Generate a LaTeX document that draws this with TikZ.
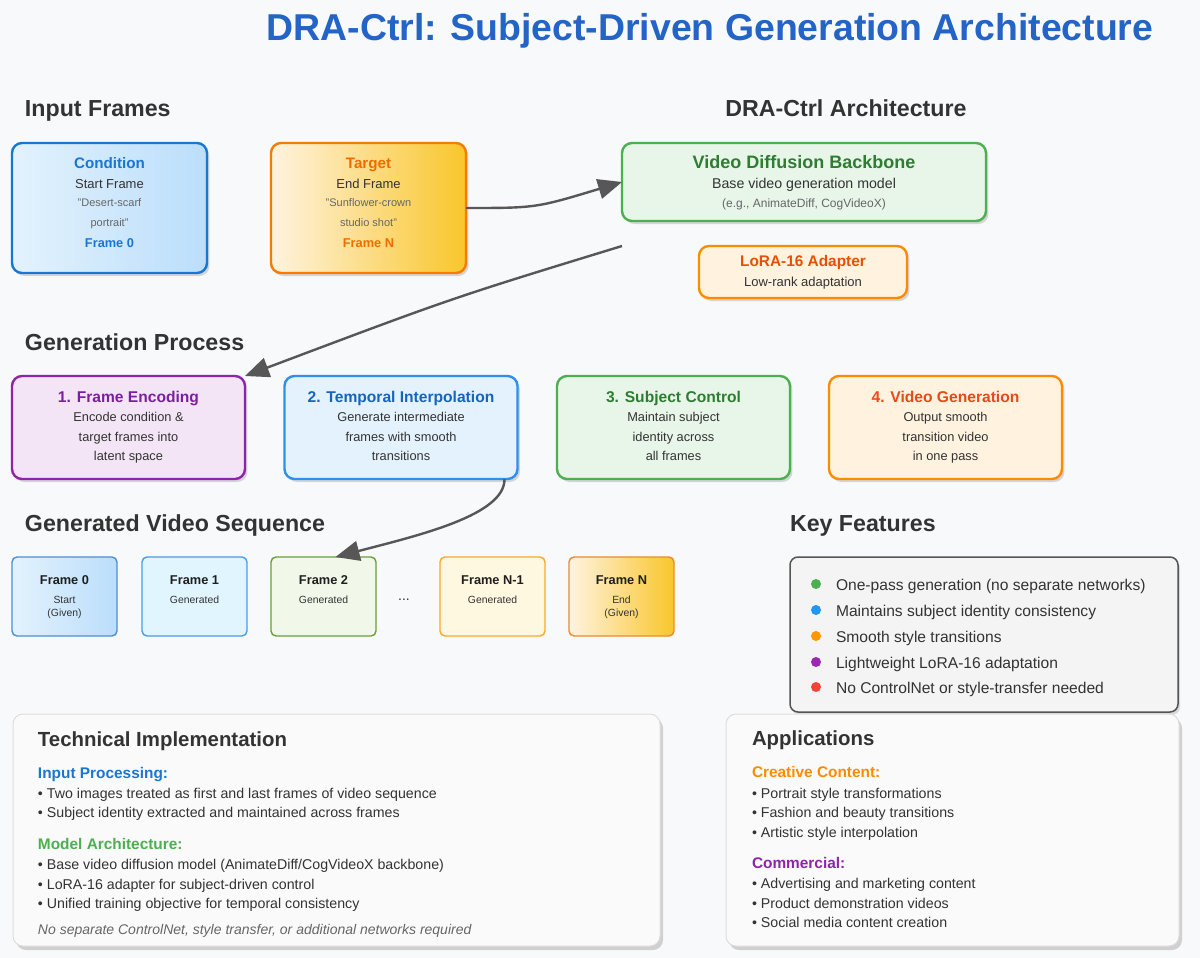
\documentclass[tikz,border=0pt]{standalone}
\usepackage{fontspec}
\setmainfont{Liberation Sans}
\usetikzlibrary{arrows.meta, shadows, positioning}

\definecolor{bgc}{HTML}{F8F9FA}
\definecolor{txt}{HTML}{333333}
\definecolor{txtD}{HTML}{1F1F1F}
\definecolor{gry}{HTML}{666666}
\definecolor{ttlc}{HTML}{2364C6}
\definecolor{arrc}{HTML}{575757}
\definecolor{bluD}{HTML}{1976D2}
\definecolor{bluL}{HTML}{E3F2FD}
\definecolor{bluM}{HTML}{BBDEFB}
\definecolor{bluB}{HTML}{2F8FEA}
\definecolor{bluT}{HTML}{1565C0}
\definecolor{orgB}{HTML}{F57C00}
\definecolor{orgT}{HTML}{EF6C00}
\definecolor{orgL}{HTML}{FFF3E0}
\definecolor{ylwM}{HTML}{F9C62B}
\definecolor{lorB}{HTML}{FB8C00}
\definecolor{lorT}{HTML}{E65100}
\definecolor{redT}{HTML}{E64A19}
\definecolor{grnB}{HTML}{4CAF50}
\definecolor{grnT}{HTML}{2E7D32}
\definecolor{grnL}{HTML}{E8F5E9}
\definecolor{purB}{HTML}{8E24AA}
\definecolor{purT}{HTML}{7B1FA2}
\definecolor{purL}{HTML}{F3E5F5}
\definecolor{frB0}{HTML}{4A8FD9}
\definecolor{frB1}{HTML}{4A9BE8}
\definecolor{frL1}{HTML}{E1F5FE}
\definecolor{frB2}{HTML}{689F38}
\definecolor{frL2}{HTML}{F1F8E9}
\definecolor{frB3}{HTML}{FFA726}
\definecolor{frL3}{HTML}{FFF8E1}
\definecolor{frB4}{HTML}{EE8A2A}
\definecolor{keyB}{HTML}{555555}
\definecolor{keyL}{HTML}{F4F4F4}
\definecolor{panB}{HTML}{DDDDDD}
\definecolor{panL}{HTML}{FAFAFA}
\definecolor{dotG}{HTML}{4CAF50}
\definecolor{dotB}{HTML}{2196F3}
\definecolor{dotO}{HTML}{FF9800}
\definecolor{dotP}{HTML}{9C27B0}
\definecolor{dotR}{HTML}{F44336}

\tikzset{
  fs/.style={font=\fontsize{#1}{#1}\selectfont, execute at begin node=\strut, yshift=-0.15*#1pt},
  fb/.style={font=\fontsize{#1}{#1}\selectfont\bfseries, execute at begin node=\strut, yshift=-0.15*#1pt},
  fi/.style={font=\fontsize{#1}{#1}\selectfont\itshape, execute at begin node=\strut, yshift=-0.15*#1pt},
  sz/.style 2 args={minimum width=#1*0.5pt, minimum height=#2*0.5pt},
  bigbox/.style={draw, rounded corners=5pt, line width=1.2pt,
    drop shadow={shadow xshift=1.2pt, shadow yshift=-1.5pt, opacity=0.14, fill=black}},
  frbox/.style={draw, rounded corners=2.5pt, line width=0.7pt, sz={105}{79}},
  panel/.style={draw=panB, fill=panL, rounded corners=5pt, line width=0.5pt,
    drop shadow={shadow xshift=1.5pt, shadow yshift=-2pt, opacity=0.16, fill=black}},
  dot/.style={circle, minimum size=5pt},
  hdr/.style={fb=11.6, text=txt, anchor=west},
  bul/.style={fs=7.1, text=txt, anchor=west},
  arr/.style={draw=arrc, line width=1.2pt, -{Triangle[length=12pt,width=10pt]}},
}

\begin{document}
\begin{tikzpicture}[x=0.5pt, y=-0.5pt, every node/.style={inner sep=0pt, outer sep=0pt}]

  % canvas
  \fill[bgc] (0,0) rectangle (1200,958);
  \useasboundingbox (0,0) rectangle (1200,958);

  % row positions (pixels of the layout)
  \def\yIn{208}
  \def\yStep{427.5}
  \def\yFr{596.5}

  % --- Title ---
  \node (title) [fb=18.7, text=ttlc] at (710,27) {DRA-Ctrl: Subject-Driven Generation Architecture};

  % --- Section headings ---
  \node (hIn)  [hdr] at (25,108) {Input Frames};
  \node (hArc) [fb=11.6, text=txt] at (846,108) {DRA-Ctrl Architecture};
  \node (hGen) [hdr] at (25,342) {Generation Process};
  \node (hSeq) [hdr] at (25,523) {Generated Video Sequence};
  \node (hKey) [hdr] at (790,523) {Key Features};

  % --- Input frames ---
  \node (cond) [bigbox, draw=bluD, left color=bluL, right color=bluM, sz={195}{130}] at (109.5,\yIn) {};
  \node (cond1) [fb=7.6, text=bluD] at (109.5,163) {Condition};
  \node (cond2) [fs=6.5, text=txt] at (109.5,184) {Start Frame};
  \node (cond3) [fs=5.5, text=gry] at (109.5,203) {"Desert-scarf};
  \node (cond4) [fs=5.5, text=gry] at (109.5,223) {portrait"};
  \node (cond5) [fb=6.4, text=bluD] at (109.5,243) {Frame 0};

  \node (tgt) [bigbox, draw=orgB, left color=orgL, right color=ylwM, sz={195}{130}] at (368.5,\yIn) {};
  \node (tgt1) [fb=7.6, text=orgT] at (368.5,163) {Target};
  \node (tgt2) [fs=6.5, text=txt] at (368.5,184) {End Frame};
  \node (tgt3) [fs=5.5, text=gry] at (368.5,203) {"Sunflower-crown};
  \node (tgt4) [fs=5.5, text=gry] at (368.5,223) {studio shot"};
  \node (tgt5) [fb=6.4, text=orgT] at (368.5,243) {Frame N};

  % --- Architecture ---
  \node (bb) [bigbox, draw=grnB, fill=grnL, sz={364}{78}] at (804,182) {};
  \node (bb1) [fb=9, text=grnT] at (804,162) {Video Diffusion Backbone};
  \node (bb2) [fs=7.1, text=txt] at (804,183) {Base video generation model};
  \node (bb3) [fs=6, text=gry] at (804,203) {(e.g., AnimateDiff, CogVideoX)};

  \node (lora) [bigbox, draw=lorB, fill=orgL, sz={208}{52}] at (803,272) {};
  \node (lora1) [fb=7.7, text=lorT] at (803,261) {LoRA-16 Adapter};
  \node (lora2) [fs=6.5, text=txt] at (803,282) {Low-rank adaptation};

  % --- Generation steps ---
  \node (s1) [bigbox, draw=purB, fill=purL, sz={233}{103}] at (128.5,\yStep) {};
  \node (s1a) [fb=7.8, text=purT] at (128.5,397) {1. Frame Encoding};
  \node (s1b) [fs=6.4, text=txt] at (128.5,417) {Encode condition \&};
  \node (s1c) [fs=6.4, text=txt] at (128.5,437) {target frames into};
  \node (s1d) [fs=6.4, text=txt] at (128.5,456) {latent space};

  \node (s2) [bigbox, draw=bluB, fill=bluL, sz={233}{103}] at (401,\yStep) {};
  \node (s2a) [fb=7.8, text=bluT] at (401,397) {2. Temporal Interpolation};
  \node (s2b) [fs=6.4, text=txt] at (401,417) {Generate intermediate};
  \node (s2c) [fs=6.4, text=txt] at (401,437) {frames with smooth};
  \node (s2d) [fs=6.4, text=txt] at (401,456) {transitions};

  \node (s3) [bigbox, draw=grnB, fill=grnL, sz={233}{103}] at (673.5,\yStep) {};
  \node (s3a) [fb=7.8, text=grnT] at (673.5,397) {3. Subject Control};
  \node (s3b) [fs=6.4, text=txt] at (673.5,417) {Maintain subject};
  \node (s3c) [fs=6.4, text=txt] at (673.5,437) {identity across};
  \node (s3d) [fs=6.4, text=txt] at (673.5,456) {all frames};

  \node (s4) [bigbox, draw=lorB, fill=orgL, sz={233}{103}] at (945.5,\yStep) {};
  \node (s4a) [fb=7.8, text=redT] at (945.5,397) {4. Video Generation};
  \node (s4b) [fs=6.4, text=txt] at (945.5,417) {Output smooth};
  \node (s4c) [fs=6.4, text=txt] at (945.5,437) {transition video};
  \node (s4d) [fs=6.4, text=txt] at (945.5,456) {in one pass};

  % --- Video sequence ---
  \node (f0) [frbox, draw=frB0, left color=bluL, right color=bluM] at (64.5,\yFr) {};
  \node (f0a) [fb=6.4, text=txtD] at (64.5,580) {Frame 0};
  \node (f0b) [fs=5.2, text=txt] at (64.5,600) {Start};
  \node (f0c) [fs=5.2, text=txt] at (64.5,613) {(Given)};

  \node (f1) [frbox, draw=frB1, fill=frL1] at (194.5,\yFr) {};
  \node (f1a) [fb=6.4, text=txtD] at (194.5,580) {Frame 1};
  \node (f1b) [fs=5.2, text=txt] at (194.5,600) {Generated};

  \node (f2) [frbox, draw=frB2, fill=frL2] at (323.5,\yFr) {};
  \node (f2a) [fb=6.4, text=txtD] at (323.5,580) {Frame 2};
  \node (f2b) [fs=5.2, text=txt] at (323.5,600) {Generated};

  \node (gap) [fs=7, text=txt] at (404,596) {...};

  \node (fn1) [frbox, draw=frB3, fill=frL3] at (492.5,\yFr) {};
  \node (fn1a) [fb=6.4, text=txtD] at (492.5,580) {Frame N-1};
  \node (fn1b) [fs=5.2, text=txt] at (492.5,600) {Generated};

  \node (fn) [frbox, draw=frB4, left color=orgL, right color=ylwM] at (621.5,\yFr) {};
  \node (fna) [fb=6.4, text=txtD] at (621.5,580) {Frame N};
  \node (fnb) [fs=5.2, text=txt] at (621.5,600) {End};
  \node (fnc) [fs=5.2, text=txt] at (621.5,613) {(Given)};

  % --- Key features ---
  \node (kf) [draw=keyB, fill=keyL, rounded corners=4pt, line width=0.75pt, sz={388}{155},
    drop shadow={shadow xshift=1pt, shadow yshift=-1.5pt, opacity=0.12, fill=black}] at (984,634.5) {};
  \node (d1) [dot, fill=dotG] at (816,584) {};
  \node (d2) [dot, fill=dotB] at (816,610) {};
  \node (d3) [dot, fill=dotO] at (816,636) {};
  \node (d4) [dot, fill=dotP] at (816,662) {};
  \node (d5) [dot, fill=dotR] at (816,687) {};
  \node (k1) [fs=7.8, text=txt, anchor=west] at (836,585) {One-pass generation (no separate networks)};
  \node (k2) [fs=7.8, text=txt, anchor=west] at (836,611) {Maintains subject identity consistency};
  \node (k3) [fs=7.8, text=txt, anchor=west] at (836,637) {Smooth style transitions};
  \node (k4) [fs=7.8, text=txt, anchor=west] at (836,663) {Lightweight LoRA-16 adaptation};
  \node (k5) [fs=7.8, text=txt, anchor=west] at (836,688) {No ControlNet or style-transfer needed};

  % --- Technical implementation ---
  \node (tech) [panel, sz={647}{232}] at (336.5,830) {};
  \node (tech0) [fb=10.2, text=txt, anchor=west] at (38,739) {Technical Implementation};
  \node (tech1) [fb=7.7, text=bluD, anchor=west] at (38,773) {Input Processing:};
  \node (tech2) [bul] at (38,793) {• Two images treated as first and last frames of video sequence};
  \node (tech3) [bul] at (38,812) {• Subject identity extracted and maintained across frames};
  \node (tech4) [fb=7.7, text=grnB, anchor=west] at (38,844) {Model Architecture:};
  \node (tech5) [bul] at (38,864) {• Base video diffusion model (AnimateDiff/CogVideoX backbone)};
  \node (tech6) [bul] at (38,884) {• LoRA-16 adapter for subject-driven control};
  \node (tech7) [bul] at (38,903) {• Unified training objective for temporal consistency};
  \node (tech8) [fi=7, text=gry, anchor=west] at (38,929) {No separate ControlNet, style transfer, or additional networks required};

  % --- Applications ---
  \node (apps) [panel, sz={453}{232}] at (952.5,830) {};
  \node (apps0) [fb=10.2, text=txt, anchor=west] at (752,738) {Applications};
  \node (apps1) [fb=7.7, text=lorB, anchor=west] at (752,772) {Creative Content:};
  \node (apps2) [bul] at (752,793) {• Portrait style transformations};
  \node (apps3) [bul] at (752,812) {• Fashion and beauty transitions};
  \node (apps4) [bul] at (752,832) {• Artistic style interpolation};
  \node (apps5) [fb=7.7, text=purB, anchor=west] at (752,863) {Commercial:};
  \node (apps6) [bul] at (752,883) {• Advertising and marketing content};
  \node (apps7) [bul] at (752,903) {• Product demonstration videos};
  \node (apps8) [bul] at (752,922) {• Social media content creation};

  % --- Connectors ---
  \coordinate (a2s) at (bb.south west |- lora.north);
  \draw[arr] (tgt.east) .. controls (536,208) .. (bb.west);
  \draw[arr] (a2s) .. controls (452,298) .. (s1.north east);
  \draw[arr] ([xshift=-6.5pt]s2.south east) .. controls (505,515) and (420,535) .. ([xshift=6pt]f2.north);

\end{tikzpicture}
\end{document}
